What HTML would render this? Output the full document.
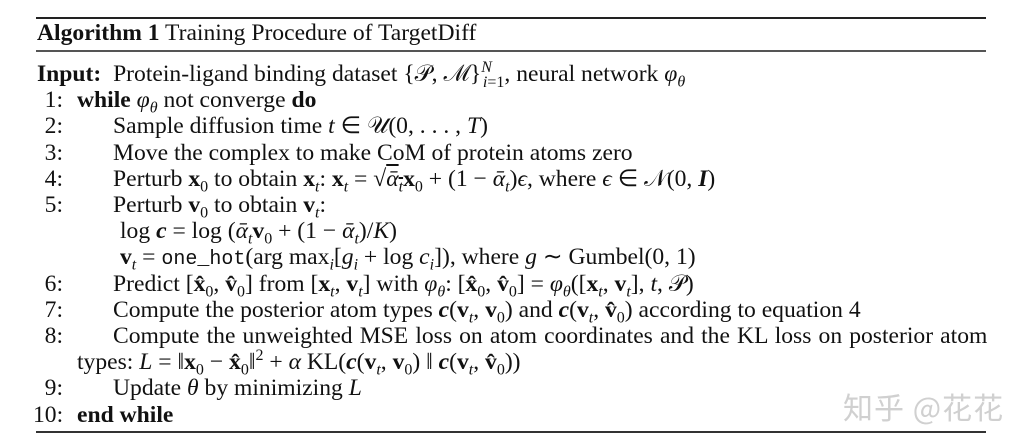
<!DOCTYPE html>
<html><head><meta charset="utf-8"><style>
body{margin:0;width:1033px;height:447px;background:#fff;position:relative;overflow:hidden;font-family:"Liberation Serif",serif;font-size:23.6px;color:#111}
.r{position:absolute;left:36px;width:950px;background:#222}
.l{position:absolute;white-space:nowrap;line-height:26px}
.n{position:absolute;width:30px;text-align:right;left:33px}
i{font-style:italic}
b{font-weight:bold}
.tt{font-family:"Liberation Mono",monospace;font-size:20px}
sub,sup{font-size:16px;line-height:0}
.wm{position:absolute;left:843px;top:384px;font-family:"Noto Sans CJK SC",sans-serif;font-size:30px;color:#d0d0d0;letter-spacing:1px}
</style></head><body>
<div class="r" style="top:17px;height:2px"></div>
<div class="r" style="top:50px;height:2px;background:#555"></div>
<div class="r" style="top:431px;height:2px;background:#333"></div>

<div class="l" style="left:37px;top:20px"><b>Algorithm 1</b> Training Procedure of TargetDiff</div>
<div class="l" style="left:37px;top:61px"><b>Input:</b>&nbsp; Protein-ligand binding dataset {𝒫, ℳ}<sup><i>N</i></sup><sub style="margin-left:-9px"><i>i</i>=1</sub>, neural network <i>φ</i><sub><i>θ</i></sub></div>

<div class="n" style="top:87px;line-height:26px">1:</div>
<div class="l" style="left:77px;top:87px"><b>while</b> <i>φ</i><sub><i>θ</i></sub> not converge <b>do</b></div>
<div class="n" style="top:113px;line-height:26px">2:</div>
<div class="l" style="left:113px;top:113px">Sample diffusion time <i>t</i> ∈ 𝒰(0, . . . , <i>T</i>)</div>
<div class="n" style="top:140px;line-height:26px">3:</div>
<div class="l" style="left:113px;top:140px">Move the complex to make CoM of protein atoms zero</div>
<div class="n" style="top:166px;line-height:26px">4:</div>
<div class="l" style="left:113px;top:166px">Perturb <b>x</b><sub>0</sub> to obtain <b>x</b><sub><i>t</i></sub>: <b>x</b><sub><i>t</i></sub> = √<span style="text-decoration:overline"><i>ᾱ</i><sub><i>t</i></sub></span><b>x</b><sub>0</sub> + (1 − <i>ᾱ</i><sub><i>t</i></sub>)<i>ϵ</i>, where <i>ϵ</i> ∈ 𝒩(0, <b><i>I</i></b>)</div>
<div class="n" style="top:192px;line-height:26px">5:</div>
<div class="l" style="left:113px;top:192px">Perturb <b>v</b><sub>0</sub> to obtain <b>v</b><sub><i>t</i></sub>:</div>
<div class="l" style="left:120px;top:218px">log <b><i>c</i></b> = log (<i>ᾱ</i><sub><i>t</i></sub><b>v</b><sub>0</sub> + (1 − <i>ᾱ</i><sub><i>t</i></sub>)/<i>K</i>)</div>
<div class="l" style="left:120px;top:244px"><b>v</b><sub><i>t</i></sub> = <span class="tt">one_hot</span>(arg max<sub><i>i</i></sub>[<i>g<sub>i</sub></i> + log <i>c<sub>i</sub></i>]), where <i>g</i> ∼ Gumbel(0, 1)</div>
<div class="n" style="top:271px;line-height:26px">6:</div>
<div class="l" style="left:113px;top:271px">Predict [<b>x̂</b><sub>0</sub>, <b>v̂</b><sub>0</sub>] from [<b>x</b><sub><i>t</i></sub>, <b>v</b><sub><i>t</i></sub>] with <i>φ</i><sub><i>θ</i></sub>: [<b>x̂</b><sub>0</sub>, <b>v̂</b><sub>0</sub>] = <i>φ</i><sub><i>θ</i></sub>([<b>x</b><sub><i>t</i></sub>, <b>v</b><sub><i>t</i></sub>], <i>t</i>, 𝒫)</div>
<div class="n" style="top:297px;line-height:26px">7:</div>
<div class="l" style="left:113px;top:297px">Compute the posterior atom types <b><i>c</i></b>(<b>v</b><sub><i>t</i></sub>, <b>v</b><sub>0</sub>) and <b><i>c</i></b>(<b>v</b><sub><i>t</i></sub>, <b>v̂</b><sub>0</sub>) according to equation 4</div>
<div class="n" style="top:323px;line-height:26px">8:</div>
<div class="l" style="left:113px;top:323px;word-spacing:1.2px">Compute the unweighted MSE loss on atom coordinates and the KL loss on posterior atom</div>
<div class="l" style="left:77px;top:349px">types: <i>L</i> = ‖<b>x</b><sub>0</sub> − <b>x̂</b><sub>0</sub>‖<sup>2</sup> + <i>α</i> KL(<b><i>c</i></b>(<b>v</b><sub><i>t</i></sub>, <b>v</b><sub>0</sub>) ‖ <b><i>c</i></b>(<b>v</b><sub><i>t</i></sub>, <b>v̂</b><sub>0</sub>))</div>
<div class="n" style="top:375px;line-height:26px">9:</div>
<div class="l" style="left:113px;top:375px">Update <i>θ</i> by minimizing <i>L</i></div>
<div class="n" style="top:402px;line-height:26px">10:</div>
<div class="l" style="left:77px;top:402px"><b>end while</b></div>

<div class="wm">知乎 @花花</div>
</body></html>
